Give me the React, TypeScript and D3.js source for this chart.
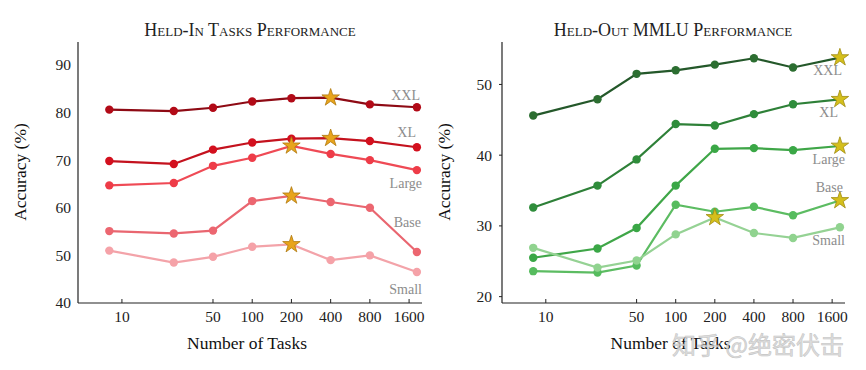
import React from "react";
import * as d3 from "d3";

// number of tasks on the x axis (log scale)
const tasks = [8, 25, 50, 100, 200, 400, 800, 1836];
const tickTasks = [10, 50, 100, 200, 400, 800, 1600];
const sizes = ["XXL", "XL", "Large", "Base", "Small"];

// held-in tasks accuracy (%)
const heldInXXL = [80.6, 80.3, 81.0, 82.3, 83.0, 83.1, 81.7, 81.1];
const heldInXL = [69.8, 69.2, 72.2, 73.7, 74.5, 74.6, 74.0, 72.7];
const heldInLarge = [64.7, 65.2, 68.8, 70.5, 73.0, 71.3, 70.0, 67.9];
const heldInBase = [55.1, 54.6, 55.2, 61.4, 62.5, 61.2, 60.0, 50.7];
const heldInSmall = [51.0, 48.5, 49.7, 51.8, 52.3, 49.0, 50.0, 46.5];
const heldInBest = [5, 5, 4, 4, 4];
const heldInTicks = [40, 50, 60, 70, 80, 90];

// held-out MMLU accuracy (%)
const mmluXXL = [45.6, 47.9, 51.5, 52.0, 52.8, 53.7, 52.4, 53.8];
const mmluXL = [32.6, 35.7, 39.4, 44.4, 44.2, 45.8, 47.2, 47.9];
const mmluLarge = [25.5, 26.8, 29.7, 35.7, 40.9, 41.0, 40.7, 41.3];
const mmluBase = [23.6, 23.4, 24.4, 33.0, 32.0, 32.7, 31.5, 33.6];
const mmluSmall = [26.9, 24.1, 25.1, 28.8, 31.2, 29.0, 28.3, 29.8];
const mmluBest = [7, 7, 7, 7, 4];
const mmluTicks = [20, 30, 40, 50];

const FONT = "'Liberation Serif', 'DejaVu Serif', serif";

interface Panel {
  title: string;
  series: number[][];
  best: number[];
  yTicks: number[];
  yDomain: [number, number];
  yRange: [number, number];
  xRange: [number, number];
  colors: string[];
  lineColors: string[];
  starFill: string;
  starStroke: string;
  labelAt: [number, number][];
  titleX: number;
  yTitleX: number;
  yTickOut: number;
}

const Chart = ({ p }: { p: Panel }) => {
  const x = d3.scaleLog().domain([4.6, 2010]).range(p.xRange);
  const y = d3.scaleLinear().domain(p.yDomain).range(p.yRange);
  const line = d3
    .line<number>()
    .x((_, i) => x(tasks[i]))
    .y((d) => y(d));
  const star = d3.symbol().type(d3.symbolStar).size(95)();
  const [x0, x1] = p.xRange;
  const [yb, yt] = p.yRange;

  return (
    <g>
      <text
        x={p.titleX}
        y={36}
        textAnchor="middle"
        fontSize={18}
        style={{ fontVariant: "small-caps" }}
        fill="#222"
      >
        {p.title}
      </text>
      {/* axes */}
      <line x1={x0} x2={x0} y1={yt} y2={yb} stroke="#222" strokeWidth={1.2} />
      <line x1={x0} x2={x1} y1={yb} y2={yb} stroke="#222" strokeWidth={1.2} />
      {p.yTicks.map((t) => (
        <g key={t}>
          {p.yTickOut > 0 && (
            <line x1={x0 - p.yTickOut} x2={x0} y1={y(t)} y2={y(t)} stroke="#222" />
          )}
          <text
            x={x0 - 7 - p.yTickOut}
            y={y(t)}
            dy="0.35em"
            textAnchor="end"
            fontSize={15.5}
            fill="#222"
          >
            {t}
          </text>
        </g>
      ))}
      {tickTasks.map((t) => (
        <g key={t}>
          <line x1={x(t)} x2={x(t)} y1={yb} y2={yb - 4} stroke="#222" />
          <text x={x(t)} y={yb + 19} textAnchor="middle" fontSize={15.5} fill="#222">
            {t}
          </text>
        </g>
      ))}
      <text
        x={(x0 + x1) / 2 - 3}
        y={349}
        textAnchor="middle"
        fontSize={17.5}
        fill="#111"
      >
        Number of Tasks
      </text>
      <text
        transform={`translate(${p.yTitleX},172) rotate(-90)`}
        textAnchor="middle"
        fontSize={17.5}
        fill="#111"
      >
        Accuracy (%)
      </text>
      {/* series */}
      {p.series.map((s, k) => (
        <g key={sizes[k]}>
          <path d={line(s) || ""} fill="none" stroke={p.lineColors[k]} strokeWidth={2.2} />
          {s.map((v, i) =>
            i === p.best[k] ? null : (
              <circle key={i} cx={x(tasks[i])} cy={y(v)} r={4.2} fill={p.colors[k]} />
            )
          )}
        </g>
      ))}
      {p.series.map((s, k) => (
        <path
          key={"star" + k}
          d={star || ""}
          transform={`translate(${x(tasks[p.best[k]])},${y(s[p.best[k]])})`}
          fill={p.starFill}
          stroke={p.starStroke}
          strokeWidth={0.8}
        />
      ))}
      {sizes.map((name, k) => (
        <text
          key={name}
          x={p.labelAt[k][0]}
          y={y(p.labelAt[k][1])}
          dy="0.35em"
          textAnchor="end"
          fontSize={14}
          fill="#8c8c8c"
        >
          {name}
        </text>
      ))}
    </g>
  );
};

const leftPanel: Panel = {
  title: "Held-In Tasks Performance",
  series: [heldInXXL, heldInXL, heldInLarge, heldInBase, heldInSmall],
  best: heldInBest,
  yTicks: heldInTicks,
  yDomain: [40, 94.8],
  yRange: [303, 42],
  xRange: [78, 422],
  colors: ["#b20a17", "#d3101e", "#ee3c48", "#ec6670", "#f5a2a8"],
  lineColors: ["#8e0a14", "#c4121e", "#ef4a55", "#e96670", "#f3a3a9"],
  starFill: "#e8a41c",
  starStroke: "#b07a10",
  labelAt: [
    [420, 83.7],
    [416, 75.8],
    [422, 65.1],
    [421, 56.9],
    [422, 42.9],
  ],
  titleX: 250,
  yTitleX: 26,
  yTickOut: 0,
};

const rightPanel: Panel = {
  title: "Held-Out MMLU Performance",
  series: [mmluXXL, mmluXL, mmluLarge, mmluBase, mmluSmall],
  best: mmluBest,
  yTicks: mmluTicks,
  yDomain: [19.1, 56],
  yRange: [303, 42],
  xRange: [502, 845],
  colors: ["#2c6e31", "#2f8d3b", "#3aa746", "#56bc5e", "#90d38f"],
  lineColors: ["#24582a", "#2e8038", "#3fa648", "#5cbc62", "#95d294"],
  starFill: "#d4bf1c",
  starStroke: "#a08c10",
  labelAt: [
    [842, 52.0],
    [838, 46.1],
    [845, 39.4],
    [843, 35.5],
    [845, 28.0],
  ],
  titleX: 673,
  yTitleX: 450,
  yTickOut: 3,
};

const App = () => {
  return (
    <svg
      width={866}
      height={370}
      style={{ position: "absolute", left: 0, top: 0, background: "#fff" }}
      fontFamily={FONT}
    >
      <rect width={866} height={370} fill="#fff" />
      <Chart p={leftPanel} />
      <Chart p={rightPanel} />
      <text
        x={844}
        y={354}
        textAnchor="end"
        fontSize={24}
        fontFamily="'Noto Sans CJK SC', sans-serif"
        fill="#d8d8d8"
        stroke="#bbbbbb"
        strokeWidth={0.6}
        opacity={0.85}
      >
        知乎 @绝密伏击
      </text>
    </svg>
  );
};

export default App;
